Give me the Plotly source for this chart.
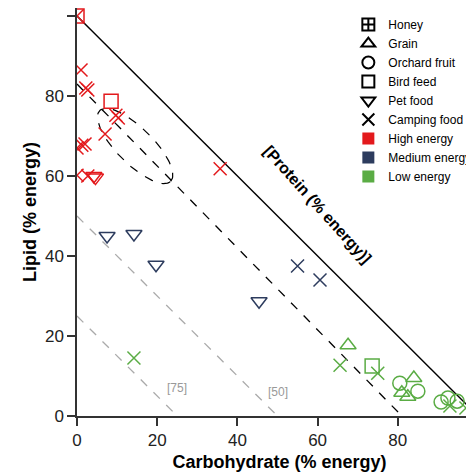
import numpy as np
import plotly.graph_objects as go

red, navy, green = "#e3191c", "#2d3c5e", "#5aac44"
# (food type, carb, lipid)
high = [("Bird feed",0,100),("Camping food",0,100),("Camping food",1,86.5),("Camping food",2.2,82),
        ("Camping food",2.7,81.5),("Bird feed",8.5,78.7),("Camping food",9.7,75.2),("Camping food",10.3,74.5),
        ("Camping food",7,70.5),("Camping food",0,67),("Camping food",1.2,67.7),("Camping food",2,68),
        ("Camping food",0,60.2),("Camping food",2.7,60),("Pet food",4.2,60),("Pet food",4.6,59.6),
        ("Camping food",35.7,61.8)]
medium = [("Pet food",7.5,45),("Pet food",14.2,45.5),("Pet food",19.7,37.8),("Pet food",45.4,28.7),
          ("Camping food",55,37.5),("Camping food",60.6,34)]
low = [("Camping food",14.2,14.5),("Grain",67.6,17.7),("Camping food",65.6,12.7),("Bird feed",73.6,12.5),
       ("Camping food",75,10.7),("Orchard fruit",80.5,8.2),("Grain",84,9.5),("Orchard fruit",85,6.2),
       ("Grain",81,5.8),("Grain",82.5,4.8),("Orchard fruit",90.8,3.5),("Camping food",93,2.5),
       ("Orchard fruit",94.8,3.7),("Camping food",97,2),("Honey",100,0),("Orchard fruit",92.5,4.5)]
types = ["Honey","Grain","Orchard fruit","Bird feed","Pet food","Camping food"]
symbols = {"Honey":"square-cross-open","Grain":"triangle-up-open","Orchard fruit":"circle-open",
           "Bird feed":"square-open","Pet food":"triangle-down-open","Camping food":"x-thin-open"}
levels = [("High energy",red,high),("Medium energy",navy,medium),("Low energy",green,low)]

fig = go.Figure()
fig.add_trace(go.Scatter(x=[0,100],y=[100,0],mode="lines",line=dict(color="black",width=1.5),showlegend=False))
fig.add_trace(go.Scatter(x=[0,82],y=[83,-1],mode="lines",line=dict(color="black",width=1.3,dash="dash"),showlegend=False))
for k in [50,25]:
    fig.add_trace(go.Scatter(x=[0,k],y=[k,0],mode="lines",line=dict(color="#aaaaaa",width=1.3,dash="dash"),showlegend=False))
t = np.linspace(0,2*np.pi,100)
a,b,cx,cy = 12.5,4.5,14.5,67.5
ex = cx + a*np.cos(t)*np.cos(-np.pi/4) - b*np.sin(t)*np.sin(-np.pi/4)
ey = cy + a*np.cos(t)*np.sin(-np.pi/4) + b*np.sin(t)*np.cos(-np.pi/4)
fig.add_trace(go.Scatter(x=ex,y=ey,mode="lines",line=dict(color="black",width=1.2,dash="dash"),showlegend=False))

for name,col,pts in levels:
    for ty in types:
        p=[q for q in pts if q[0]==ty]
        if not p: continue
        fig.add_trace(go.Scatter(x=[q[1] for q in p],y=[q[2] for q in p],mode="markers",showlegend=False,
            marker=dict(symbol=symbols[ty],size=14 if ty!="Camping food" else 13,color=col,line=dict(width=1.5,color=col))))
for ty in types:
    fig.add_trace(go.Scatter(x=[None],y=[None],mode="markers",name=ty,
        marker=dict(symbol=symbols[ty],size=13,color="black",line=dict(width=1.2,color="black"))))
for name,col,_ in levels:
    fig.add_trace(go.Scatter(x=[None],y=[None],mode="markers",name=name,
        marker=dict(symbol="square",size=13,color=col)))

fig.add_annotation(x=60,y=53,text="<b>[Protein (% energy)]</b>",textangle=48,showarrow=False,font=dict(size=16,color="black"))
fig.add_annotation(x=25,y=7,text="[75]",showarrow=False,font=dict(size=12,color="#999999"))
fig.add_annotation(x=50.2,y=6,text="[50]",showarrow=False,font=dict(size=12,color="#999999"))

ax = dict(showgrid=False,zeroline=False,showline=True,linecolor="#333",linewidth=1.5,ticks="outside",
          ticklen=8,tickwidth=1.5,tickcolor="#333",dtick=20,tickfont=dict(size=17,color="#222"),automargin=False)
fig.update_layout(width=474,height=474,margin=dict(l=69,r=0,t=0,b=66,autoexpand=False),plot_bgcolor="white",paper_bgcolor="white",
    font=dict(family="Liberation Sans",color="black"),
    xaxis=dict(ax,range=[0,101],title=dict(text="<b>Carbohydrate (% energy)</b>",font=dict(size=18),standoff=6)),
    yaxis=dict(ax,range=[0,102],title=dict(text="<b>Lipid (% energy)</b>",font=dict(size=18),standoff=4)),
    legend=dict(x=0.67,y=0.995,xanchor="left",yanchor="top",font=dict(size=12),tracegroupgap=0,
                itemsizing="constant",bgcolor="rgba(0,0,0,0)",itemwidth=30),)
fig.write_html("out.html")
